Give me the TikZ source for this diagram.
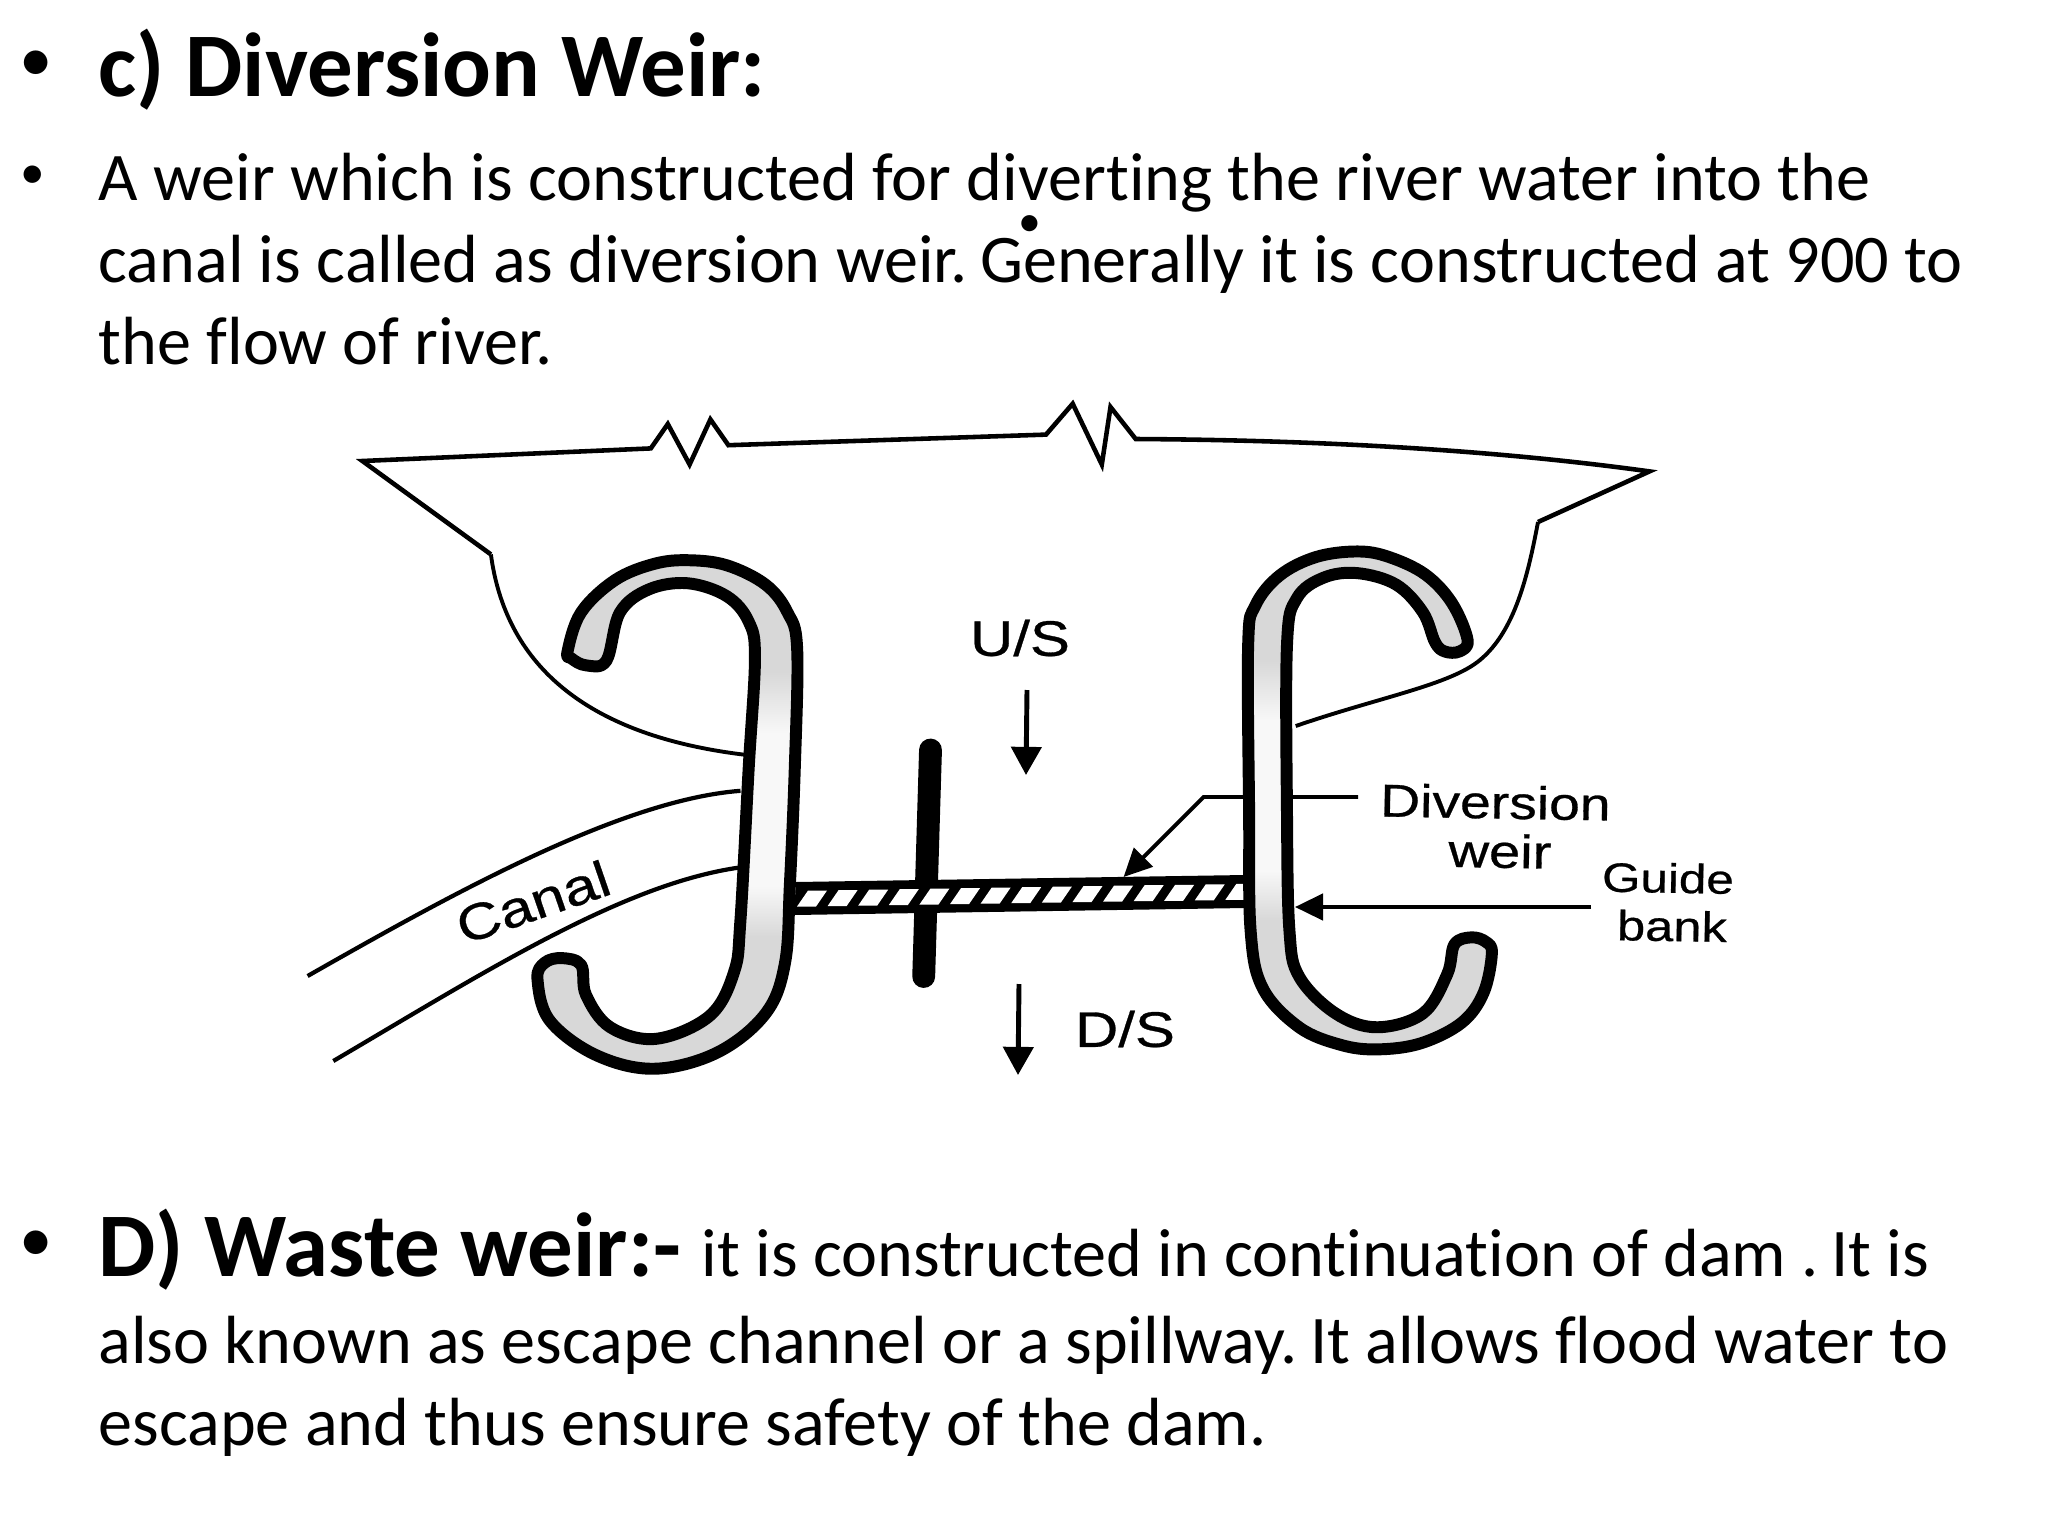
\documentclass[tikz,border=0pt]{standalone}
\usepackage{fontspec}
\setmainfont[Ligatures=CommonOff]{Carlito}
\newfontfamily\labfont[FakeStretch=1.2,FakeBold=0.6]{Liberation Sans}
\usetikzlibrary{arrows.meta}
\definecolor{bankgray}{HTML}{D8D8D8}
\definecolor{bankpale}{HTML}{F8F8F8}
\pgfdeclareverticalshading{hookshade}{100bp}{color(0bp)=(bankgray);color(38bp)=(bankgray);color(43bp)=(bankpale);color(58bp)=(bankpale);color(64bp)=(bankgray);color(100bp)=(bankgray)}
\tikzset{
  bodytext/.style={anchor=base west,inner sep=0pt,font=\fontsize{19.38}{23}\selectfont},
  headtext/.style={anchor=base west,inner sep=0pt,font=\fontsize{25.85}{30}\selectfont\bfseries},
  dot/.style={anchor=center,inner sep=0pt,font=\fontsize{#1}{#1}\selectfont},
  lab/.style={inner sep=0pt,font=\labfont\fontsize{#1}{15}\selectfont},
  river/.style={line width=1.3pt,line join=miter},
  shore/.style={line width=1.1pt},
  canal/.style={line width=1.2pt},
  hook/.style={line width=3.4pt,draw=black,line join=round,shading=hookshade},
  flow/.style={line width=1.4pt,-{Triangle[length=8pt,width=8.5pt]}},
  lead/.style={line width=1.1pt,-{Triangle[length=8pt,width=7.5pt]}}
}
\begin{document}
\begin{tikzpicture}[x=0.01cm,y=-0.01cm]
\useasboundingbox (0,0) rectangle (2048,1536);
\fill[white] (0,0) rectangle (2048,1536);

% text
\node[dot=19] (b1) at (36,66) {•};
\node[headtext] (h1) at (98,96) {c) Diversion Weir:};
\node[dot=14] (b2) at (33,177) {•};
\node[bodytext] (l1) at (98,200) {A weir which is constructed for diverting the river water into the};
\node[bodytext] (l2) at (98,282) {canal is called as diversion weir.\kern-0.85pt\ Generally it is constructed at 900 to};
\node[bodytext] (l3) at (98,364) {the flow of river.};
\node[dot=13] (b3) at (1030,226) {•};
\node[dot=19] (b4) at (36,1246) {•};
\node[headtext] (h2) at (98,1276) {D) Waste weir:-};
\node[bodytext] (m0) at (701,1276) {it is constructed in continuation of dam .\kern-0.85pt\ It is};
\node[bodytext] (m1) at (98,1363) {also known as escape channel or a spillway.\kern-0.85pt\ It allows flood water to};
\node[bodytext] (m2) at (98,1445) {escape and thus ensure safety of the dam.};

% river outline
\draw[river] (490.9,554.4) -- (362.4,461)
  -- (650.8,448.4) -- (667.8,424) -- (689.6,464.5) -- (710.4,419.4) -- (728.4,445.2)
  -- (1046,434.6) -- (1072.7,403.7) -- (1101.8,464.5) -- (1110.5,407) -- (1135.7,439)
  .. controls (1300,440) and (1480,448) .. (1649.5,471.4) -- (1538,522);
\draw[shore] (490.9,554.4) .. controls (505,660) and (580,735) .. (745.3,754.8);
\draw[shore] (1538,522) .. controls (1528,575) and (1515,631) .. (1480,660)
  .. controls (1450,685) and (1380,697) .. (1295.7,726);

% canal
\coordinate (ct0) at (307.6,976);
\coordinate (ct1) at (740.5,790.8);
\coordinate (cb0) at (333.3,1061);
\coordinate (cb1) at (738,867.7);
\draw[canal] (ct0) .. controls (450,895) and (620,800) .. (ct1);
\draw[canal] (cb0) .. controls (480,975) and (620,885) .. (cb1);

% pier
\draw[line width=6.5pt,line cap=round] (930.5,750) -- (923.7,976.5);

% diversion weir body with hatching
\fill[black] (796,882) -- (1245,875) -- (1245,908) -- (794,915) -- cycle;
\foreach \i in {0,...,14}{
  \pgfmathsetmacro{\xa}{797+30.6*\i}
  \pgfmathsetmacro{\cc}{898.5-(\xa-800)*0.0158}
  \fill[white] (\xa,\cc+8) -- (\xa+19,\cc+8) -- (\xa+30,\cc-8) -- (\xa+11,\cc-8) -- cycle;
}

% leader to the weir, runs behind the right bank
\coordinate (lead0) at (1358,797);
\coordinate (leadk) at (1203.6,797);
\coordinate (lead1) at (1123.6,877);
\draw[lead] (lead0) -- (leadk) -- (lead1);

% guide banks
\begin{scope}[x=0.004847cm,y=-0.004608cm,shift={(2.8cm,-4cm)}]
\path[hook] plot[smooth cycle,tension=0.6] coordinates {
 (592,545)(620,460)(690,390)(770,355)(840,347)(920,358)(1000,400)(1045,460)(1065,540)
 (1060,800)(1050,1050)(1040,1220)(1000,1330)(900,1415)(770,1450)(650,1420)(555,1345)(530,1255)(545,1220)(580,1210)(620,1225)
 (630,1290)(680,1360)(775,1385)(885,1335)(935,1240)(948,1130)(965,800)(978,560)(965,480)(920,425)(840,397)(760,410)(700,460)(672,565)(630,575)(600,560)};
\end{scope}
\begin{scope}[x=0.004847cm,y=-0.004608cm,shift={(10cm,-4cm)}]
\path[hook] plot[smooth cycle,tension=0.6] coordinates {
 (962,520)(930,440)(875,378)(800,340)(735,328)(650,340)(575,380)(525,445)(510,530)(512,900)(515,1150)(540,1275)(615,1360)(700,1398)(775,1408)(865,1395)(950,1350)(995,1285)(1012,1200)(1000,1175)(970,1165)(935,1180)(920,1245)(870,1330)(775,1360)(690,1330)(615,1250)(595,1150)(590,900)(590,530)(610,430)(665,385)(735,375)(815,400)(870,460)(895,525)(915,545)(945,545)};
\end{scope}

% flow arrows and labels
\node[lab=14.2] (us) at (1020,638) {U/S};
\coordinate (us0) at (1027,690);
\coordinate (us1) at (1026,775);
\draw[flow] (us0) -- (us1);
\node[lab=14.2] (ds) at (1125,1029) {D/S};
\coordinate (ds0) at (1019,984);
\coordinate (ds1) at (1018,1075);
\draw[flow] (ds0) -- (ds1);
\node[lab=14.4,rotate=19] (canalt) at (533,902) {Canal};
\node[lab=13.1,rotate=-1] (divt) at (1495.5,802) {Diversion};
\node[lab=13.3,rotate=-1] (weirt) at (1500,851) {weir};
\node[lab=11.7,rotate=-1] (guidet) at (1668,878) {Guide};
\node[lab=12,rotate=-1] (bankt) at (1672,926) {bank};
\coordinate (g0) at (1591,907);
\coordinate (g1) at (1295,907);
\draw[lead] (g0) -- (g1);
\end{tikzpicture}
\end{document}
